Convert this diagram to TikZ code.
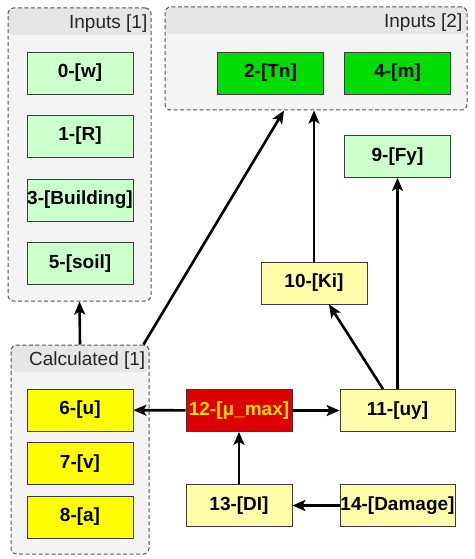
\documentclass[tikz,border=0pt]{standalone}
\usepackage{fontspec}
\setmainfont{Liberation Sans}
\usepackage{xcolor}
\definecolor{Edge}{HTML}{3C3C3C}
\definecolor{Dash}{HTML}{555555}
\definecolor{Pane}{HTML}{F4F4F4}
\definecolor{Band}{HTML}{E6E6E6}
\definecolor{PaleGreen}{HTML}{CCFFCC}
\definecolor{Green}{HTML}{00DD00}
\definecolor{Yellow}{HTML}{FFFF00}
\definecolor{PaleYellow}{HTML}{FFFFAA}
\definecolor{Red}{HTML}{DD0000}
\definecolor{Gold}{HTML}{FFDD00}
\usepackage{tikz}
\usetikzlibrary{arrows.meta,positioning,calc}
\tikzset{
  group/.style={draw=Dash,fill=Pane,rounded corners=2mm,line width=1pt,
    dash pattern=on 4pt off 2.5pt,inner sep=0pt,
    path picture={\fill[Band] (path picture bounding box.north west)
      rectangle ([yshift=-27pt]path picture bounding box.north east);}},
  grouptitle/.style={inner sep=2pt,text=black!85,
    font=\fontsize{19}{20}\selectfont},
  var/.style={draw=Edge,line width=.8pt,minimum width=106pt,minimum height=42pt,
    inner sep=0pt,align=center,font=\fontsize{19}{20}\selectfont\bfseries},
  input/.style={var,fill=PaleGreen},
  given/.style={var,fill=Green},
  calc/.style={var,fill=Yellow},
  derived/.style={var,fill=PaleYellow},
  key/.style={var,fill=Red,text=Gold},
  arrow/.style={-{Stealth[length=13pt,width=11pt,inset=3pt]},line width=2.6pt,draw=black}
}
\begin{document}
\begin{tikzpicture}[x=1pt,y=-1pt]
\useasboundingbox (0,0) rectangle (474,559);
\node[group,minimum width=143pt,minimum height=293pt] (in1) at (79.5,154.5) {};
\node[group,minimum width=302pt,minimum height=103pt] (in2) at (316,58.5) {};
\node[group,minimum width=138pt,minimum height=209pt] (cal) at (80,449.5) {};
\node[grouptitle,anchor=north east] (in1t) at ([xshift=-2pt,yshift=-5pt]in1.north east) {Inputs [1]};
\node[grouptitle,anchor=north east] (in2t) at ([xshift=-3pt,yshift=-5pt]in2.north east) {Inputs [2]};
\node[grouptitle,anchor=north east] (calt) at ([xshift=-2pt,yshift=-5pt]cal.north east) {Calculated [1]};

\node[input] (w) at (80,73) {0-[w]};
\node[input] (r) at (80,136) {1-[R]};
\node[input] (bld) at (80,200) {3-[Building]};
\node[input] (soil) at (80,263.5) {5-[soil]};
\node[given] (tn) at (270.5,73) {2-[Tn]};
\node[given] (m) at (397.5,73) {4-[m]};
\node[input] (fy) at (397.5,156.5) {9-[Fy]};
\node[derived] (ki) at (314,283) {10-[Ki]};
\node[key] (mu) at (239,410.5) {12-[μ\_max]};
\node[derived,minimum width=115pt] (uy) at (397.5,410.5) {11-[uy]};
\node[derived] (di) at (239,505.5) {13-[DI]};
\node[derived,minimum width=115pt] (dmg) at (397.5,505.5) {14-[Damage]};
\node[calc] (u) at (80,410) {6-[u]};
\node[calc] (v) at (80,463.5) {7-[v]};
\node[calc] (a) at (80,517) {8-[a]};

\draw[arrow] (cal.north) -- (in1.south);
\draw[arrow] ([xshift=-6pt]cal.north east) -- ([xshift=-32pt]in2.south);
\draw[arrow] (ki.north) -- (ki.north |- in2.south);
\draw[arrow] (uy.north) -- (fy.south);
\draw[arrow] ([xshift=-14.5pt]uy.north) -- ([xshift=15pt]ki.south);
\draw[arrow] (mu) -- (uy);
\draw[arrow] (mu) -- (u);
\draw[arrow] (di) -- (mu);
\draw[arrow] (dmg) -- (di);
\end{tikzpicture}
\end{document}
